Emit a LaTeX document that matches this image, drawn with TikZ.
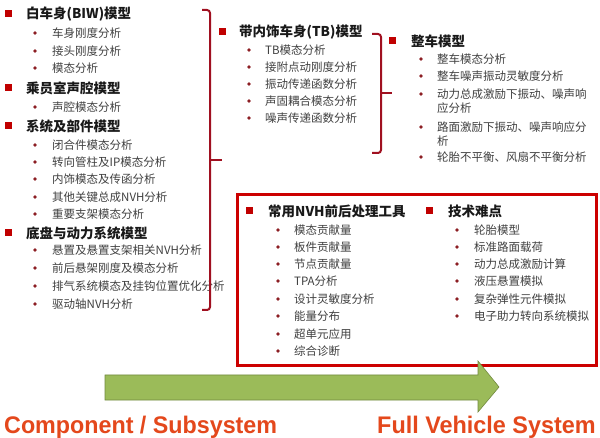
\documentclass[tikz,border=0pt]{standalone}
\usepackage{fontspec}
\setmainfont{Liberation Sans}
\newfontfamily\cjk{Noto Sans CJK SC}
\definecolor{sqred}{RGB}{192,0,0}
\definecolor{dotred}{RGB}{140,30,35}
\definecolor{brkred}{RGB}{160,16,32}
\definecolor{boxred}{RGB}{204,0,0}
\definecolor{itgray}{RGB}{64,64,64}
\definecolor{hdblack}{RGB}{25,25,25}
\definecolor{arrgreen}{RGB}{155,187,89}
\definecolor{arrdark}{RGB}{113,137,63}
\definecolor{lblorange}{RGB}{228,72,28}
\tikzset{
  sqb/.style={rectangle,fill=sqred,minimum size=7pt,inner sep=0pt},
  dotb/.style={circle,fill=dotred,minimum size=3.6pt,inner sep=0pt},
  hd/.style={anchor=west,inner sep=0pt,text=hdblack,font=\cjk\bfseries\fontsize{13.5}{15}\selectfont},
  it/.style={anchor=west,inner sep=0pt,text=itgray,font=\cjk\fontsize{11.5}{13}\selectfont},
  brk/.style={draw=brkred,line width=2pt,rounded corners=3pt},
  lbl/.style={anchor=west,inner sep=0pt,text=lblorange,font=\bfseries\fontsize{24}{26}\selectfont}
}
\newcommand\hdr[5]{\node[sqb] (#1q) at (#2,#4) {};\node[hd] (#1) at (#3,#4) {#5};}
\newcommand\itm[5]{\node[dotb] (#1d) at (#2,#4) {};\node[it] (#1) at (#3,#4) {#5};}
\begin{document}
\begin{tikzpicture}[x=1pt,y=-1pt]
\useasboundingbox[fill=white] (0,0) rectangle (600,438);
% left column
\hdr{h1}{8}{26}{14}{白车身(BIW)模型}
\itm{a1}{35}{52}{33}{车身刚度分析}
\itm{a2}{35}{52}{51}{接头刚度分析}
\itm{a3}{35}{52}{68}{模态分析}
\hdr{h2}{8}{26}{88}{乘员室声腔模型}
\itm{b1}{35}{52}{107}{声腔模态分析}
\hdr{h3}{8}{26}{126}{系统及部件模型}
\itm{c1}{35}{52}{145}{闭合件模态分析}
\itm{c2}{35}{52}{162}{转向管柱及IP模态分析}
\itm{c3}{35}{52}{179}{内饰模态及传函分析}
\itm{c4}{35}{52}{197}{其他关键总成NVH分析}
\itm{c5}{35}{52}{214}{重要支架模态分析}
\hdr{h4}{8}{26}{233}{底盘与动力系统模型}
\itm{d1}{35}{52}{250}{悬置及悬置支架相关NVH分析}
\itm{d2}{35}{52}{268}{前后悬架刚度及模态分析}
\itm{d3}{35}{52}{286}{排气系统模态及挂钩位置优化分析}
\itm{d4}{35}{52}{304}{驱动轴NVH分析}
% bracket 1
\draw[brk] (202,10) -- (210,10) -- (210,310) -- (202,310);
\draw[brkred,line width=2pt] (210,160) -- (222,160);
% middle column
\hdr{h5}{222}{239}{32}{带内饰车身(TB)模型}
\itm{e1}{249}{265}{50}{TB模态分析}
\itm{e2}{249}{265}{67}{接附点动刚度分析}
\itm{e3}{249}{265}{84}{振动传递函数分析}
\itm{e4}{249}{265}{101}{声固耦合模态分析}
\itm{e5}{249}{265}{118}{噪声传递函数分析}
% bracket 2
\draw[brk] (372,34) -- (381,34) -- (381,153) -- (372,153);
\draw[brkred,line width=2pt] (381,93) -- (392,93);
% right column
\hdr{h6}{392}{411}{41}{整车模型}
\itm{f1}{421}{437}{59}{整车模态分析}
\itm{f2}{421}{437}{76}{整车噪声振动灵敏度分析}
\itm{f3}{421}{437}{94}{动力总成激励下振动、噪声响}
\node[it] (f3b) at (437,108) {应分析};
\itm{f4}{421}{437}{127}{路面激励下振动、噪声响应分}
\node[it] (f4b) at (437,141) {析};
\itm{f5}{421}{437}{157}{轮胎不平衡、风扇不平衡分析}
% red box
\draw[boxred,line width=3pt] (237,195) rectangle (596,366);
\hdr{h7}{249}{268}{211}{常用NVH前后处理工具}
\itm{g1}{278}{294}{230}{模态贡献量}
\itm{g2}{278}{294}{247}{板件贡献量}
\itm{g3}{278}{294}{264}{节点贡献量}
\itm{g4}{278}{294}{281}{TPA分析}
\itm{g5}{278}{294}{299}{设计灵敏度分析}
\itm{g6}{278}{294}{316}{能量分布}
\itm{g7}{278}{294}{334}{超单元应用}
\itm{g8}{278}{294}{351}{综合诊断}
\hdr{h8}{429}{448}{211}{技术难点}
\itm{k1}{457}{474}{230}{轮胎模型}
\itm{k2}{457}{474}{247}{标准路面载荷}
\itm{k3}{457}{474}{264}{动力总成激励计算}
\itm{k4}{457}{474}{281}{液压悬置模拟}
\itm{k5}{457}{474}{299}{复杂弹性元件模拟}
\itm{k6}{457}{474}{316}{电子助力转向系统模拟}
% green arrow
\filldraw[fill=arrgreen,draw=arrdark,line width=0.6pt]
  (105,375) -- (478,375) -- (478,361) -- (499,387) -- (478,412) -- (478,400) -- (105,400) -- cycle;
% bottom labels
\node[lbl] (comp) at (4,427) {\scalebox{0.97}[1]{Component / Subsystem}};
\node[lbl] (full) at (377,427) {\scalebox{0.975}[1]{Full Vehicle System}};
\end{tikzpicture}
\end{document}
